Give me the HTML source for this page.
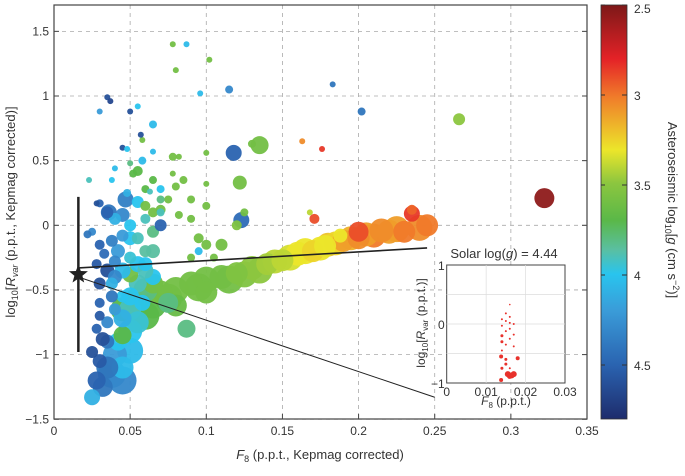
<!DOCTYPE html>
<html><head><meta charset="utf-8"><style>
body{margin:0;background:#fff;}
svg text{font-family:"Liberation Sans",sans-serif;fill:#333;}
</style></head><body>
<svg id="chart" width="685" height="471" viewBox="0 0 685 471">
<defs>
<linearGradient id="cg" x1="0" y1="0" x2="0" y2="1">
<stop offset="0" stop-color="#7d1818"/><stop offset="0.13" stop-color="#e42227"/>
<stop offset="0.22" stop-color="#f07a2a"/><stop offset="0.35" stop-color="#ece62a"/>
<stop offset="0.43" stop-color="#8cc63f"/><stop offset="0.52" stop-color="#5ab848"/>
<stop offset="0.59" stop-color="#5abfa0"/><stop offset="0.65" stop-color="#29c4ee"/>
<stop offset="0.74" stop-color="#3a9bd8"/><stop offset="0.87" stop-color="#2a63b0"/>
<stop offset="1" stop-color="#1e2c6c"/>
</linearGradient>
</defs>
<g id="grid"></g><g id="pts"></g><g id="over"></g><g id="axes"></g><g id="inset"></g><g id="cbar"></g>
</svg>
<script>
const xVals=[0.045,0.055,0.06,0.07,0.08,0.09,0.1,0.11,0.12,0.13,0.14,0.15,0.16,0.17,0.18,0.19,0.2,0.21,0.22,0.23,0.24,0.2,0.235,0.235,0.188,0.178,0.08,0.1,0.065,0.087,0.05,
0.025,0.032,0.038,0.045,0.05,0.042,0.045,0.025,0.03,0.035,0.028,0.03,0.035,0.03,0.04,0.045,0.038,0.035,0.028,0.04,0.045,0.055,0.05,0.033,0.03,0.038,0.045,0.036,0.047,0.04,0.05,0.055,0.06,0.06,0.065,0.07,0.055,0.03,0.025,0.022,0.065,0.06,0.058,0.075,
0.06,0.065,0.07,0.075,0.08,0.085,0.09,0.082,0.09,0.095,0.1,0.1,0.11,0.09,0.105,0.1,0.1,0.078,0.082,0.078,0.065,0.055,0.06,0.07,0.058,0.078,0.087,0.08,0.102,0.096,0.115,0.183,0.202,0.266,0.322,0.118,0.122,0.123,0.135,0.13,0.12,0.125,0.163,0.176,0.171,0.168,
0.035,0.037,0.03,0.05,0.055,0.065,0.057,0.045,0.048,0.065,0.058,0.04,0.038,0.023,0.05,0.052,0.063,0.07,0.07,0.048,0.035,0.028,0.095,
0.095,0.115,0.125,0.135,0.145,0.155,0.165,0.175,0.185,0.195,0.205,0.215,0.225,0.245,0.075,0.065,0.06,0.05,0.055,
0.04,0.045,0.035,0.028,0.05,0.045,0.05,0.055,0.042,0.06,0.065,0.05,0.045,0.04,0.03,0.032,0.038];
const yVals=[-0.65,-0.58,-0.7,-0.52,-0.5,-0.45,-0.42,-0.4,-0.37,-0.33,-0.3,-0.27,-0.22,-0.2,-0.15,-0.12,-0.1,-0.08,-0.05,-0.05,-0.02,-0.05,0.09,0.12,-0.08,-0.16,-0.62,-0.52,-0.45,-0.8,-0.38,
-1.33,-1.25,-1.15,-1.1,-0.97,-0.9,-0.85,-0.98,-1.05,-0.9,-0.8,-0.7,-0.75,-0.6,-0.65,-0.55,-0.45,-0.35,-0.3,-0.28,-0.35,-0.45,-0.25,-0.22,-0.15,-0.12,-0.08,0.1,0.2,0.05,0.0,-0.1,-0.2,0.05,-0.05,0.0,0.18,0.17,-0.05,-0.07,-0.4,-0.3,-0.6,-0.6,
0.15,0.1,0.12,0.2,0.3,0.35,0.2,0.08,0.05,-0.1,-0.15,0.15,-0.15,-0.25,-0.25,0.32,0.56,0.53,0.53,0.4,0.35,0.42,0.28,0.2,0.66,1.4,1.4,1.2,1.28,1.02,1.05,1.09,0.88,0.82,0.21,0.56,0.33,0.04,0.62,0.63,0.0,0.1,0.65,0.59,0.05,0.1,
0.99,0.96,0.88,0.88,0.92,0.78,0.7,0.6,0.59,0.57,0.5,0.44,0.35,0.35,0.48,0.4,0.26,0.28,0.1,0.25,0.1,0.17,-0.2,
-0.48,-0.42,-0.38,-0.35,-0.28,-0.25,-0.2,-0.18,-0.14,-0.1,-0.07,-0.04,-0.03,0.0,-0.56,-0.62,-0.5,-0.65,-0.75,
-1.0,-1.2,-1.1,-1.2,-0.82,-0.72,-0.55,-0.3,-0.2,-0.35,-0.2,-0.1,0.08,-0.4,-0.45,-0.88,-0.55];
const loggVals=[3.7,3.65,3.7,3.6,3.6,3.6,3.6,3.6,3.55,3.5,3.45,3.4,3.3,3.25,3.2,3.1,3.05,3.0,3.1,3.0,3.05,2.9,2.85,2.95,3.3,3.3,3.65,3.6,3.6,3.8,3.6,
4.1,4.4,4.35,4.05,4.05,4.0,3.7,4.6,4.55,4.4,4.5,4.55,4.3,4.5,4.2,4.0,4.1,4.6,4.55,4.3,4.05,3.9,3.95,4.45,4.5,4.35,4.2,4.4,4.35,4.1,4.0,3.9,3.85,3.9,3.8,4.5,4.0,4.5,4.3,4.4,4.0,4.0,4.0,3.8,
3.6,3.6,3.6,3.6,3.6,3.6,3.6,3.6,3.6,3.6,3.6,3.6,3.6,3.6,3.6,3.6,3.6,3.6,3.6,3.6,3.7,3.7,3.7,3.8,3.6,3.6,4.05,3.6,3.6,4.05,4.3,4.4,4.4,3.5,2.55,4.5,3.6,4.45,3.6,3.6,3.55,3.6,3.05,2.85,2.9,3.4,
4.6,4.65,4.2,4.6,4.0,4.05,4.6,4.6,4.0,4.05,4.05,4.05,4.0,3.9,3.8,3.7,3.9,4.0,3.9,4.1,4.5,4.6,4.05,
3.6,3.6,3.55,3.5,3.4,3.35,3.3,3.3,3.25,3.15,3.1,3.05,3.1,3.0,3.65,3.7,3.8,3.9,3.95,
4.2,4.3,4.4,4.5,4.0,4.1,4.0,4.0,4.2,3.9,3.85,4.0,4.3,4.3,4.6,4.6,4.4];
const sizeVals=[12,13,14,12,13,12,13,12,11,12,11,11,12,11,12,11,11,12,12,11,13,10,8,5,7,11,11,11,10,9,8,
8,10,14,11,13,9,9,6,7,7,5,5,6,5,6,6,6,7,5,6,8,9,6,5,5,6,6,8,8,6,6,6,6,5,6,6,6,4,4,4,8,7,8,10,
5,5,5,4,4,4,4,4,4,5,5,4,6,4,4,3,3,4,3,3,4,5,4,4,3,3,3,3,3,3,4,3,4,6,10,8,7,8,9,4,5,4,3,3,5,3,
3,3,3,3,3,4,3,3,3,3,4,3,3,3,3,4,3,4,4,4,6,3,4,
14,14,13,13,12,13,13,12,12,12,12,12,13,11,14,13,12,11,11,
12,14,11,9,12,9,9,8,7,8,7,7,7,7,6,7,6];
const xTicks=[0,0.05,0.1,0.15,0.2,0.25,0.3,0.35];
const xTickLabels=["0","0.05","0.1","0.15","0.2","0.25","0.3","0.35"];
const yTicks=[-1.5,-1,-0.5,0,0.5,1,1.5];
const yTickLabels=["\u22121.5","\u22121","\u22120.5","0","0.5","1","1.5"];
const cTicks=[2.5,3,3.5,4,4.5];
const cTickLabels=["2.5","3","3.5","4","4.5"];
const sunX=[0.016];const sunY=[-0.38];const sunErrLo=[-0.98];const sunErrHi=[0.22];
const lineUpX=[0.016,0.245];const lineUpY=[-0.33,-0.175];
const lineLoX=[0.016,0.25];const lineLoY=[-0.40,-1.33];
const insetX=[0.016,0.015,0.016,0.014,0.015,0.016,0.017,0.014,0.016,0.015,0.017,0.014,0.016,0.014,0.015,0.017,0.014,0.0138,0.015,0.018,0.015,0.014,0.016,0.0155,0.0165,0.017,0.016,0.0138];
const insetY=[0.33,0.18,0.12,0.08,0.05,0.02,0.0,-0.03,-0.08,-0.12,-0.18,-0.2,-0.25,-0.3,-0.35,-0.38,-0.45,-0.55,-0.6,-0.58,-0.68,-0.75,-0.75,-0.85,-0.87,-0.85,-0.88,-0.95];
const insetR=[0.8,1,1,1,1,1,1,1,1,1,1,1.5,1,1.5,1,1,1,2,1.5,2,1.5,1.5,1,3,3,3,3,2];
const insetXTicks=[0,0.01,0.02,0.03];const insetXLabels=["0","0.01","0.02","0.03"];
const insetYTicks=[-1,0,1];const insetYLabels=["\u22121","0","1"];

const NS="http://www.w3.org/2000/svg";
const L=54,R=587,T=5,B=419;
const X=v=>L+v/0.35*(R-L);
const Y=v=>225.3-v*129.3;
const CT=5,CB=419;
const CY=v=>CT+(v-2.5)/(4.8-2.5)*(CB-CT);
const IL=446.7,IR=565,IT=265,IB=383;
const IX=v=>IL+v/0.03*(IR-IL);
const IY=v=>IT+(1-v)/2*(IB-IT);
function mk(p,t,a){const e=document.createElementNS(NS,t);for(const k in a)e.setAttribute(k,a[k]);p.appendChild(e);return e;}
const stops=[[2.5,[125,24,24]],[2.8,[228,34,39]],[3.0,[240,122,42]],[3.3,[236,230,42]],[3.5,[140,198,63]],[3.7,[90,184,72]],[3.85,[90,191,160]],[4.0,[41,196,238]],[4.2,[58,155,216]],[4.5,[42,99,176]],[4.8,[30,44,108]]];
function col(g){g=Math.max(2.5,Math.min(4.8,g));for(let i=0;i<stops.length-1;i++){const a=stops[i],b=stops[i+1];if(g<=b[0]){const t=(g-a[0])/(b[0]-a[0]);const c=a[1].map((v,j)=>Math.round(v+(b[1][j]-v)*t));return `rgb(${c})`;}}return "rgb(30,44,108)";}
const grid=document.getElementById('grid'),pts=document.getElementById('pts'),over=document.getElementById('over'),axes=document.getElementById('axes'),ins=document.getElementById('inset'),cb=document.getElementById('cbar');
xTicks.forEach((v,i)=>{
 if(i>0&&i<xTicks.length-1){const g=mk(grid,'line',{x1:X(v),x2:X(v),y1:T,y2:B,stroke:'#aaa','stroke-dasharray':'4,4','stroke-width':0.8});
 
 }
 mk(axes,'line',{x1:X(v),x2:X(v),y1:B,y2:B-5,stroke:'#444'});
 const t=mk(axes,'text',{x:X(v),y:B+16,'text-anchor':'middle','font-size':12});t.textContent=xTickLabels[i];
 
 
});
yTicks.forEach((v,i)=>{
 const g=mk(grid,'line',{x1:L,x2:R,y1:Y(v),y2:Y(v),stroke:'#aaa','stroke-dasharray':'4,4','stroke-width':0.8});
 
 
 mk(axes,'line',{x1:L,x2:L+5,y1:Y(v),y2:Y(v),stroke:'#444'});
 mk(axes,'line',{x1:R,x2:R-5,y1:Y(v),y2:Y(v),stroke:'#444'});
 const t=mk(axes,'text',{x:L-5,y:Y(v)+4,'text-anchor':'end','font-size':12});t.textContent=yTickLabels[i];
 
 
});
const idx=xVals.map((_,i)=>i).sort((a,b)=>sizeVals[b]-sizeVals[a]);
idx.forEach(i=>{
 const c=mk(pts,'circle',{cx:X(xVals[i]),cy:Y(yVals[i]),r:sizeVals[i],fill:col(loggVals[i]),'fill-opacity':0.95});
 
 
});
let e;
e=mk(over,'line',{x1:X(lineUpX[0]),y1:Y(lineUpY[0]),x2:X(lineUpX[1]),y2:Y(lineUpY[1]),stroke:'#222','stroke-width':1.6});

e=mk(over,'line',{x1:X(lineLoX[0]),y1:Y(lineLoY[0]),x2:X(lineLoX[1]),y2:Y(lineLoY[1]),stroke:'#222','stroke-width':1});

e=mk(over,'line',{x1:X(sunX[0]),x2:X(sunX[0]),y1:Y(sunErrHi[0]),y2:Y(sunErrLo[0]),stroke:'#222','stroke-width':2.5});

(function(){const cx=X(sunX[0]),cy=Y(sunY[0]);let p=[];for(let k=0;k<10;k++){const r=k%2?4.2:10,a=-Math.PI/2+k*Math.PI/5;p.push((cx+r*Math.cos(a)).toFixed(1)+','+(cy+r*Math.sin(a)).toFixed(1));}
 const s=mk(over,'polygon',{points:p.join(' '),fill:'#222'});
 })();
e=mk(axes,'rect',{x:L,y:T,width:R-L,height:B-T,fill:'none',stroke:'#444','stroke-width':1.2});

e=mk(axes,'text',{x:320,y:459,'text-anchor':'middle','font-size':13});
e.innerHTML='<tspan font-style="italic">F</tspan><tspan font-size="9" dy="3">8</tspan><tspan dy="-3"> (p.p.t., Kepmag corrected)</tspan>';

e=mk(axes,'text',{x:0,y:0,'text-anchor':'middle','font-size':13,transform:'translate(15,212) rotate(-90)'});
e.innerHTML='log<tspan font-size="9" dy="3">10</tspan><tspan dy="-3">[</tspan><tspan font-style="italic">R</tspan><tspan font-size="9" dy="3" font-style="italic">var</tspan><tspan dy="-3">  (p.p.t., Kepmag corrected)]</tspan>';

// inset
e=mk(ins,'rect',{x:IL,y:IT,width:IR-IL,height:IB-IT,fill:'#fff',stroke:'#444','stroke-width':1});

[0.01,0.02].forEach(v=>mk(ins,'line',{x1:IX(v),x2:IX(v),y1:IT,y2:IB,stroke:'#ddd','stroke-width':0.7}));
[-0.5,0,0.5].forEach(v=>mk(ins,'line',{x1:IL,x2:IR,y1:IY(v),y2:IY(v),stroke:'#ddd','stroke-width':0.7}));
insetX.forEach((v,i)=>{const c=mk(ins,'circle',{cx:IX(v),cy:IY(insetY[i]),r:insetR[i],fill:'#e8322c'});
 
 });
insetXTicks.forEach((v,i)=>{const t=mk(ins,'text',{x:IX(v),y:IB+13,'text-anchor':'middle','font-size':12});t.textContent=insetXLabels[i];
 
 });
insetYTicks.forEach((v,i)=>{const t=mk(ins,'text',{x:IL-2,y:IY(v)+5,'text-anchor':'end','font-size':12});t.textContent=insetYLabels[i];
 
 });
e=mk(ins,'text',{x:504,y:258,'text-anchor':'middle','font-size':13});
e.innerHTML='Solar log(<tspan font-style="italic">g</tspan>) = 4.44';

e=mk(ins,'text',{x:506,y:405,'text-anchor':'middle','font-size':12});
e.innerHTML='<tspan font-style="italic">F</tspan><tspan font-size="8" dy="3">8</tspan><tspan dy="-3"> (p.p.t.)</tspan>';

e=mk(ins,'text',{x:0,y:0,'text-anchor':'middle','font-size':12,transform:'translate(425,323) rotate(-90)'});
e.innerHTML='log<tspan font-size="8" dy="3">10</tspan><tspan dy="-3">[</tspan><tspan font-style="italic">R</tspan><tspan font-size="8" dy="3">var</tspan><tspan dy="-3"> (p.p.t.)]</tspan>';

// colorbar
e=mk(cb,'rect',{x:601,y:CT,width:26,height:CB-CT,fill:'url(#cg)',stroke:'#333','stroke-width':0.8});

cTicks.forEach((v,i)=>{
 mk(cb,'line',{x1:622,x2:627,y1:CY(v),y2:CY(v),stroke:'#333'});
 mk(cb,'line',{x1:601,x2:605,y1:CY(v),y2:CY(v),stroke:'#333'});
 const t=mk(cb,'text',{x:634,y:(i==0?CY(v)+8:CY(v)+5),'font-size':12});t.textContent=cTickLabels[i];
 
 
});
e=mk(cb,'text',{x:0,y:0,'text-anchor':'middle','font-size':13,transform:'translate(668,210) rotate(90)'});
e.innerHTML='Asteroseismic  log<tspan font-size="9" dy="3">10</tspan><tspan dy="-3">[</tspan><tspan font-style="italic">g</tspan>  (cm s<tspan font-size="9" dy="-5">\u22122</tspan><tspan dy="5">)]</tspan>';

</script>
</body></html>
